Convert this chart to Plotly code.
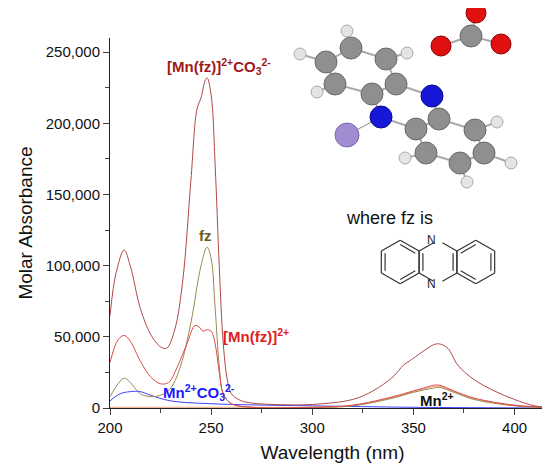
import math
import plotly.graph_objects as go

wl_co3 = [200,203,207,210,215,220,225,228,232,236,240,243,245,247,248,250,252,254,256,258,260,265,270,280,300,320,330,340,345,348,350,355,360,363,367,372,380,390,400,410,420]
mnfz_co3 = [65000,95000,111000,100000,70000,52000,43000,42000,55000,90000,160000,210000,218000,230000,232000,220000,170000,100000,45000,20000,10000,5000,3500,2500,2500,6000,12000,22000,30000,33000,35000,40000,44500,45000,42000,30000,20000,12000,6000,1500,500]

wl_mnfz = [200,204,207,210,215,220,225,229,233,238,242,244,246,248,250,252,254,256,260,270,300,320,340,350,355,360,363,370,380,400,420]
mnfz = [32000,48000,51000,47000,33000,22000,17000,18000,28000,45000,58000,57000,54000,55000,54000,45000,25000,10000,3000,500,500,2000,8000,12000,14000,16000,16000,12000,7000,2000,200]

wl_fz = [200,204,207,210,215,220,225,230,235,240,245,248,250,252,254,256,260,270,300,320,340,350,360,363,370,380,400,420]
fz = [8000,17000,21000,18000,10000,8000,9000,14000,30000,60000,100000,113000,105000,70000,30000,10000,3000,500,300,1500,7000,11000,14000,14500,11000,6000,1500,100]

wl_mn = [200,250,270,300,320,340,350,360,363,370,380,400,420]
mn = [500,500,500,500,1800,7500,11500,15000,15200,11500,6500,1800,150]

wl_mnco3 = [200,205,210,215,220,230,250,270,300,350,420]
mnco3 = [5000,10000,11500,11500,9000,5000,3000,2200,1500,500,0]

fig = go.Figure()
def add(x, y, c):
    fig.add_trace(go.Scatter(x=x, y=y, mode="lines", line=dict(color=c, width=1, shape="spline"), showlegend=False))
add(wl_mnco3, mnco3, "#3f3fff")
add(wl_mn, mn, "#e8a07a")
add(wl_fz, fz, "#9a8a50")
add(wl_mnfz, mnfz, "#e04848")
add(wl_co3, mnfz_co3, "#b04848")

def lab(x, y, t, c):
    fig.add_annotation(x=x, y=y, text=t, showarrow=False, font=dict(color=c, size=15, family="Liberation Sans"))
lab(254, 240000, "<b>[Mn(fz)]<sup>2+</sup>CO<sub>3</sub><sup>2-</sup></b>", "#a01818")
lab(247, 121000, "<b>fz</b>", "#6b5a1a")
lab(272, 51000, "<b>[Mn(fz)]<sup>2+</sup></b>", "#e02020")
lab(244, 11000, "<b>Mn<sup>2+</sup>CO<sub>3</sub><sup>2-</sup></b>", "#1a1aff")
lab(361.5, 6000, "<b>Mn<sup>2+</sup></b>", "#111111")

L, R, T, B = 102, 547, 30, 400
OFF = 7
def px(x): return (x - L) / (R - L)
def py(y): return (B + OFF - y) / (B - T)

fig.add_annotation(xref="paper", yref="paper", x=px(427), y=py(217), text="where fz is", showarrow=False, font=dict(size=18, family="Liberation Sans", color="#111"))

shapes = []
def line(a, b, c="#333", w=1.2):
    shapes.append(dict(type="line", xref="paper", yref="paper", x0=px(a[0]), y0=py(a[1]), x1=px(b[0]), y1=py(b[1]), line=dict(color=c, width=w)))
r = 21.8
cy = 261
for cx in (392.2, 430, 467.8):
    pts = [(cx + r*math.cos(math.radians(90+60*k)), cy - r*math.sin(math.radians(90+60*k))) for k in range(6)]
    for k in range(6):
        line(pts[k], pts[(k+1) % 6])
    inner = (1, 3, 5) if cx < 430 else ((0, 2, 4) if cx > 430 else (1, 4))
    for k in inner:
        a, b = pts[k], pts[(k+1) % 6]
        ia = (a[0]+(cx-a[0])*0.2, a[1]+(cy-a[1])*0.2)
        ib = (b[0]+(cx-b[0])*0.2, b[1]+(cy-b[1])*0.2)
        line(ia, ib)
for yy in (cy - r, cy + r):
    shapes.append(dict(type="circle", xref="paper", yref="paper", x0=px(425), x1=px(435), y0=py(yy-6), y1=py(yy+6), fillcolor="white", line=dict(width=0)))
    fig.add_annotation(xref="paper", yref="paper", x=px(430), y=py(yy), text="N", showarrow=False, font=dict(size=12, family="Liberation Sans", color="#222"))

atoms = {
 "C1": (318,61,"C"), "C2": (343,47,"C"), "C3": (378,58,"C"), "C4": (327,83,"C"), "C5": (364,93,"C"), "C6": (388,83,"C"),
 "C7": (408,128,"C"), "C8": (431,118,"C"), "C9": (467,129,"C"), "C10": (476,152,"C"), "C11": (452,162,"C"), "C12": (418,152,"C"),
 "N1": (424,95,"N"), "N2": (373,116,"N"), "Mn": (339,134,"M"),
 "H1": (292,53,"H"), "H2": (339,30,"H"), "H3": (399,52,"H"), "H4": (309,91,"H"), "H5": (489,121,"H"), "H6": (503,162,"H"), "H7": (459,181,"H"), "H8": (397,157,"H"),
 "O1": (433,45,"O"), "O2": (493,43,"O"), "Ca": (463,35,"C"), "O3": (468,12,"O"),
}
bonds = [("C1","C2"),("C2","C3"),("C3","C6"),("C6","C5"),("C5","C4"),("C4","C1"),("C6","N1"),("N1","C8"),("C8","C7"),("C7","N2"),("N2","C5"),
         ("C8","C9"),("C9","C10"),("C10","C11"),("C11","C12"),("C12","C7"),("C1","H1"),("C2","H2"),("C3","H3"),("C4","H4"),("C9","H5"),("C10","H6"),("C11","H7"),("C12","H8"),
         ("O1","Ca"),("Ca","O2"),("Ca","O3")]
for a, b in bonds:
    line(atoms[a][:2], atoms[b][:2], "#aaaaaa", 2)
line(atoms["Mn"][:2], atoms["N2"][:2], "#888", 1)
style = {"C": (11, "#8f8f8f", "#6a6a6a"), "N": (11, "#1717d8", "#0a0a90"), "M": (12, "#a08cd0", "#7a68a8"), "H": (6, "#e4e4e4", "#aaaaaa"), "O": (10, "#e01010", "#900000")}
for k, (x, y, t) in atoms.items():
    rr, fc, lc = style[t]
    shapes.append(dict(type="circle", xref="paper", yref="paper", x0=px(x-rr), x1=px(x+rr), y0=py(y+rr), y1=py(y-rr), fillcolor=fc, line=dict(color=lc, width=1)))

fig.update_layout(
    width=550, height=470, margin=dict(l=L, r=550-R, t=T, b=470-B),
    plot_bgcolor="white", paper_bgcolor="white", shapes=shapes,
    font=dict(family="Liberation Sans", size=15, color="#111"),
    xaxis=dict(range=[200, 420], dtick=50, ticks="outside", ticklen=6, showline=True, linecolor="#222", showgrid=False, zeroline=False,
               automargin=False, minor=dict(ticks="outside", ticklen=4, dtick=25),
               title=dict(text="Wavelength (nm)", font=dict(size=19), standoff=10), tickfont=dict(size=15)),
    yaxis=dict(range=[0, 260000], dtick=50000, ticks="outside", ticklen=6, showline=True, linecolor="#222", showgrid=False, zeroline=False,
               automargin=False, tickformat=",", minor=dict(ticks="outside", ticklen=4, dtick=25000),
               title=dict(text="Molar Absorbance", font=dict(size=19), standoff=8), tickfont=dict(size=15)),
)
fig.write_html("out.html")
